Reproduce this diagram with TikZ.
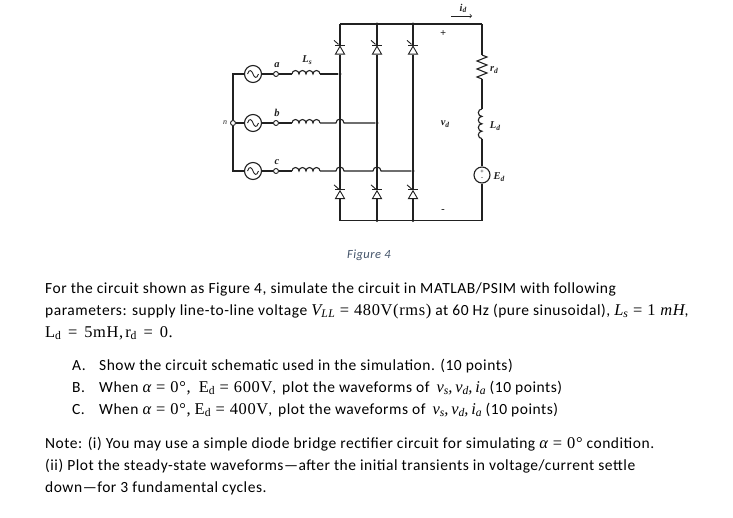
\documentclass[tikz,border=0pt]{standalone}
\usepackage{fontspec}
\setmainfont{Carlito}[LetterSpace=3.4]
\newfontfamily\labelfont{Liberation Serif}
\newfontfamily\mathfnt{Liberation Serif}[LetterSpace=4,Scale=1.06]
\usetikzlibrary{calc,shapes.geometric,decorations.pathmorphing}
\definecolor{capblue}{HTML}{44546A}
\definecolor{ink}{gray}{0.13}
\newcommand{\mi}[1]{{\mathfnt\itshape #1}}
\newcommand{\mr}[1]{{\mathfnt #1}}
\newcommand{\low}[1]{\raisebox{-0.35ex}{\fontsize{11}{11}\selectfont #1}}
\newcommand{\labsub}[1]{\raisebox{-0.3ex}{\fontsize{7.5}{7.5}\selectfont #1}}
\newcommand{\eqsign}{\mr{\kern5pt=\kern5pt}}
\tikzset{
  wire/.style={line width=1.1pt,draw=ink},
  thyr/.style={draw=ink,line width=0.9pt,regular polygon,regular polygon sides=3,minimum size=10.5pt,inner sep=0pt},
  source/.style={draw=ink,line width=1.1pt,circle,minimum size=17pt,inner sep=0pt},
  term/.style={draw=ink,line width=0.9pt,circle,fill=white,minimum size=5pt,inner sep=0pt},
  dot/.style={fill=ink,circle,minimum size=3.4pt,inner sep=0pt},
  lab/.style={inner sep=0pt,text=ink,font=\labelfont\bfseries\itshape\fontsize{10.5}{10.5}\selectfont},
  txt/.style={anchor=base west,inner sep=0pt,text=black,font=\fontsize{15.5}{18}\selectfont},
}
\begin{document}
\begin{tikzpicture}[x=1pt,y=-1pt]
\useasboundingbox (0,0) rectangle (733,517);

% bridge columns
\foreach \col/\x in {1/340,2/377,3/413}{
  \coordinate (rp\col) at (\x,24);
  \coordinate (rm\col) at (\x,220.5);
  \draw node [thyr] (tu\col) at (\x,51.5){};
  \draw node [thyr] (tl\col) at (\x,196){};
  \draw[wire] (rp\col) -- (tu\col);
  \draw[wire] (tu\col) -- (tl\col);
  \draw[wire] (tl\col) -- (rm\col);
  \foreach \th in {tu,tl}{
    \draw[wire] ($(\th\col.corner 1)+(-5,0)$) -- ($(\th\col.corner 1)+(5,0)$);
    \draw[line width=0.9pt,draw=ink] ($(\th\col.corner 1)+(-6,-5)$) -- ($(\th\col.corner 1)+(-1.5,-1)$);
  }
}
\coordinate (rp4) at (482,24);
\coordinate (rm4) at (482,220.5);
\draw[wire] (rp1) -- (rp4);
\draw[wire] (rm1) -- (rm4);

% three phases
\draw node [term] (n) at (233,123){};
\foreach \ph/\y/\xj in {a/74/340,b/123/377,c/171/413}{
  \draw node [source] (V\ph) at (253,\y){};
  \draw node [term] (t\ph) at (276,\y){};
  \coordinate (Li\ph) at (292,\y);
  \coordinate (Lo\ph) at (320,\y);
  \draw node [dot] (j\ph) at (\xj,\y){};
  \draw[wire] (V\ph) -- (t\ph);
  \draw[wire] (t\ph) -- (Li\ph);
  \draw[wire] (Li\ph) arc[start angle=180,end angle=360,radius=3.5] arc[start angle=180,end angle=360,radius=3.5] arc[start angle=180,end angle=360,radius=3.5] arc[start angle=180,end angle=360,radius=3.5];
  \draw[line width=0.9pt,draw=ink] ($(V\ph)+(-5.5,0)$) .. controls ($(V\ph)+(-3.5,-6)$) and ($(V\ph)+(-1,-3)$) .. (V\ph.center) .. controls ($(V\ph)+(1,3)$) and ($(V\ph)+(3.5,6)$) .. ($(V\ph)+(5.5,0)$);
}
\draw[wire] (Va) -| (n);
\draw[wire] (n) -- (Vb);
\draw[wire] (Vc) -| (n);
\draw[wire] (Loa) -- (ja);
\draw[wire] (Lob) -- ($(Lob -| rp1)+(-4,0)$) arc[start angle=180,end angle=360,radius=4] -- (jb);
\draw[wire] (Loc) -- ($(Loc -| rp1)+(-4,0)$) arc[start angle=180,end angle=360,radius=4] -- ($(Loc -| rp2)+(-4,0)$) arc[start angle=180,end angle=360,radius=4] -- (jc);

\foreach \at in {rp2,rp3,rm2,rm3}{
  \draw node [dot] (d\at) at (\at){};
}

% load
\coordinate (rdi) at (482,55);
\coordinate (rdo) at (482,79);
\coordinate (Ldi) at (482,109);
\draw node [source,minimum size=16pt] (Ed) at (482,175){};
\draw[wire] (rp4) -- (rdi);
\draw[wire,decorate,decoration={zigzag,amplitude=5pt,segment length=8pt}] (rdi) -- (rdo);
\draw[wire] (rdo) -- (Ldi);
\draw[wire] (Ldi) arc[start angle=270,end angle=90,radius=3.7] arc[start angle=270,end angle=90,radius=3.7] arc[start angle=270,end angle=90,radius=3.7] arc[start angle=270,end angle=90,radius=3.7] coordinate (Ldo);
\draw[wire] (Ldo) -- (Ed);
\draw[wire] (Ed) -- (rm4);
\draw node [lab,font=\labelfont\bfseries\fontsize{6}{6}\selectfont] (Edp) at ($(Ed)+(0,-3.5)$){+};
\draw node [lab,font=\labelfont\bfseries\fontsize{6}{6}\selectfont] (Edm) at ($(Ed)+(0,4)$){-};

% current arrow
\coordinate (ia) at (451,16);
\coordinate (ib) at (472,16);
\draw[->,line width=0.7pt,draw=ink] (ia) -- (ib);

% labels
\draw node [lab] (lid) at (463,8.5){i\labsub{d}};
\draw node [lab] (lrd) at (494,70){r\labsub{d}};
\draw node [lab] (lLd) at (495,126){L\labsub{d}};
\draw node [lab] (lEd) at (499,177){E\labsub{d}};
\draw node [lab] (lvd) at (445,124){v\labsub{d}};
\draw node [lab] (lp) at (443,34){+};
\draw node [lab] (lm) at (443,211){-};
\draw node [lab] (lLs) at (307,60){L\labsub{s}};
\draw node [lab] (la) at (277,65.5){a};
\draw node [lab] (lb) at (277,113){b};
\draw node [lab] (lc) at (277,162){c};
\draw node [lab,font=\labelfont\itshape\fontsize{8}{8}\selectfont] (ln) at (225,123){n};

% caption and text
\draw node [anchor=base west,inner sep=0pt,text=capblue,font=\itshape\fontsize{12.5}{14}\selectfont] (cap) at (347,258){Figure 4};

\draw node [txt] (q1) at (45,293){For the circuit shown as Figure 4, simulate the circuit in MATLAB/PSIM with following};
\draw node [txt] (q2) at ($(q1.base west)+(0,22)$){parameters: supply line-to-line voltage \mi{V\low{LL}}\eqsign\mr{480V(rms)} at 60 Hz (pure sinusoidal), \mi{L\low{s}}\eqsign\mr{1 \mi{mH}},};
\draw node [txt] (q3) at ($(q2.base west)+(0,22)$){\mr{L\low{d}}\kern2pt\eqsign\kern2pt\mr{5mH,\kern2pt r\low{d}}\kern2pt\eqsign\kern2pt\mr{0.}};

\draw node [txt] (pa) at (72,370){\makebox[27pt][l]{A.}Show the circuit schematic used in the simulation. (10 points)};
\draw node [txt] (pb) at ($(pa.base west)+(0,22)$){\makebox[27pt][l]{B.}When \mi{α}\eqsign\mr{0°,}\ \ \mr{E\low{d}}\eqsign\mr{600V},\kern6pt plot the waveforms of\kern7pt \mi{v\low{s},\,v\low{d},\,i\low{a}} (10 points)};
\draw node [txt] (pc) at ($(pb.base west)+(0,22)$){\makebox[27pt][l]{C.}When \mi{α}\eqsign\mr{0°,} \mr{E\low{d}}\eqsign\mr{400V},\kern6pt plot the waveforms of\kern7pt \mi{v\low{s},\,v\low{d},\,i\low{a}} (10 points)};

\draw node [txt] (n1) at (45,448){Note: (i) You may use a simple diode bridge rectifier circuit for simulating \mi{α}\eqsign\mr{0°} condition.};
\draw node [txt] (n2) at ($(n1.base west)+(0,22)$){(ii) Plot the steady-state waveforms---after the initial transients in voltage/current settle};
\draw node [txt] (n3) at ($(n2.base west)+(0,22)$){down---for 3 fundamental cycles.};

\end{tikzpicture}
\end{document}
